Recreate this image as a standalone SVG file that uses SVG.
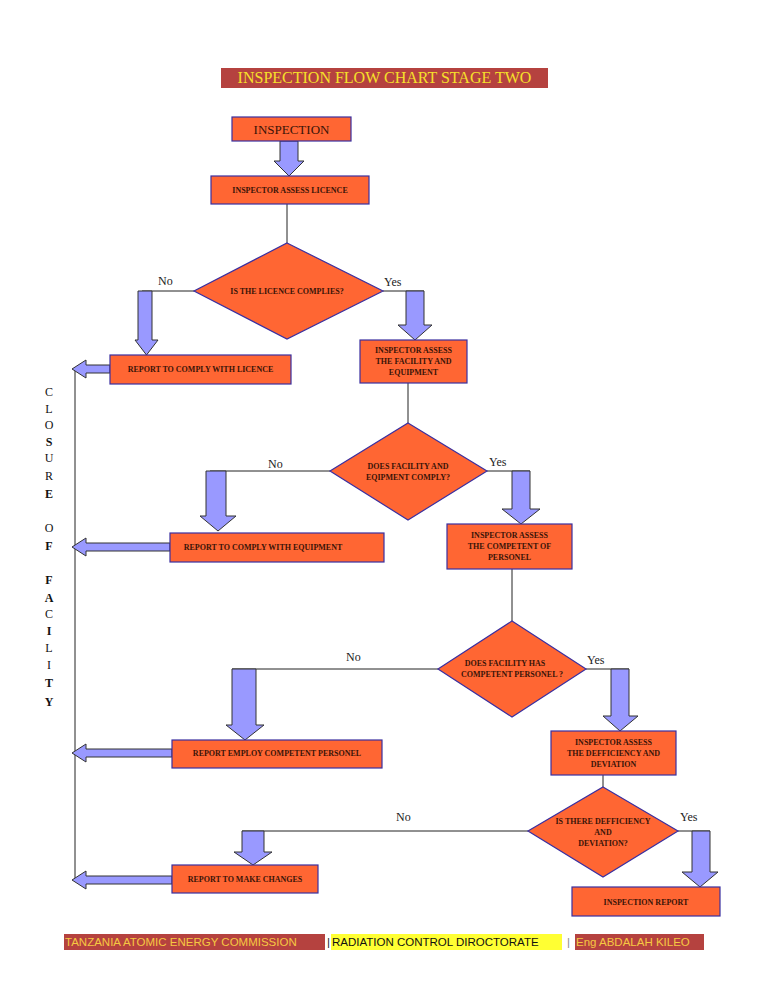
<svg xmlns="http://www.w3.org/2000/svg" width="768" height="994" viewBox="0 0 768 994">
<style>
.n{fill:#ff6633;stroke:#3a2fa0;stroke-width:1.2}
.t{font-family:"Liberation Serif",serif;font-size:8px;font-weight:bold;fill:#3a1408;text-anchor:middle}
.a{fill:#9999ff;stroke:#333;stroke-width:1}
.l{stroke:#222;stroke-width:1;fill:none}
.y{font-family:"Liberation Serif",serif;font-size:12px;fill:#222}
.v{font-family:"Liberation Serif",serif;font-size:12px;fill:#111;text-anchor:middle}
.f{font-family:"Liberation Sans",sans-serif;font-size:11.5px}
</style>
<rect width="768" height="994" fill="#fff"/>
<g id="title"><rect x="221" y="68" width="327" height="20" fill="#b5423f"/><text x="384.5" y="83" font-family="Liberation Serif,serif" font-size="16" fill="#f5e02a" text-anchor="middle">INSPECTION FLOW CHART STAGE TWO</text></g>
<g id="connectors">
<path class="l" d="M287 204V243M194 291H142M383 291H424M408 383V423M330 471H210M487 471H530M512 569V621M438 669H232M586 669H629M603 775V787M528 831H242M678 831H710M75 367V880"/>
<path class="a" d="M280 141H298V161H304L289 176L274 161H280Z"/>
<path class="a" d="M138 291H152V340H158L146.5 355L135 340H138Z"/>
<path class="a" d="M406 291H424V325H432L415 340L398 325H406Z"/>
<path class="a" d="M206 471H226V516H236L218 531L200 516H206Z"/>
<path class="a" d="M512 471H530V509H540L521 524L502 509H512Z"/>
<path class="a" d="M232 669H256V725H264L245 740L226 725H232Z"/>
<path class="a" d="M611 669H629V716H638L620 731L603 716H611Z"/>
<path class="a" d="M242 831H264V852H272L253 865L234 852H242Z"/>
<path class="a" d="M692 831H710V872H718L700 887L682 872H692Z"/>
<path class="a" d="M110 365H86V360L72 369L86 378V373H110Z"/>
<path class="a" d="M170 543H86V538L72 547L86 556V551H170Z"/>
<path class="a" d="M172 749H86V744L72 753L86 762V757H172Z"/>
<path class="a" d="M172 876H86V871L72 880L86 889V884H172Z"/>
<text class="y" x="158" y="285">No</text><text class="y" x="384" y="286">Yes</text>
<text class="y" x="268" y="468">No</text><text class="y" x="489" y="466">Yes</text>
<text class="y" x="346" y="661">No</text><text class="y" x="587" y="664">Yes</text>
<text class="y" x="396" y="821">No</text><text class="y" x="680" y="821">Yes</text>
</g>
<g id="n1"><rect class="n" x="232" y="117" width="119" height="24"/><text x="291.5" y="134" font-family="Liberation Serif,serif" font-size="13" fill="#3a1408" text-anchor="middle">INSPECTION</text></g>
<g id="n2"><rect class="n" x="211" y="176" width="158" height="28"/><text class="t" x="290" y="193">INSPECTOR ASSESS LICENCE</text></g>
<g id="d1"><polygon class="n" points="287,243 383,291 287,339 194,291"/><text class="t" x="287" y="294">IS THE LICENCE COMPLIES?</text></g>
<g id="r1"><rect class="n" x="110" y="355" width="181" height="29"/><text class="t" x="200.5" y="372">REPORT TO COMPLY WITH LICENCE</text></g>
<g id="n3"><rect class="n" x="360" y="340" width="107" height="43"/><text class="t" x="413.5" y="353">INSPECTOR ASSESS</text><text class="t" x="413.5" y="364">THE FACILITY AND</text><text class="t" x="413.5" y="375">EQUIPMENT</text></g>
<g id="d2"><polygon class="n" points="408,423 487,471 408,520 330,471"/><text class="t" x="408" y="469">DOES FACILITY AND</text><text class="t" x="408" y="480">EQIPMENT COMPLY?</text></g>
<g id="r2"><rect class="n" x="170" y="533" width="214" height="29"/><text class="t" x="263" y="550">REPORT TO  COMPLY WITH EQUIPMENT</text></g>
<g id="n4"><rect class="n" x="447" y="524" width="125" height="45"/><text class="t" x="509.5" y="538">INSPECTOR ASSESS</text><text class="t" x="509.5" y="549">THE COMPETENT OF</text><text class="t" x="509.5" y="560">PERSONEL</text></g>
<g id="d3"><polygon class="n" points="512,621 586,669 512,717 438,669"/><text class="t" x="505" y="666">DOES FACILITY HAS</text><text class="t" x="512" y="677">COMPETENT PERSONEL ?</text></g>
<g id="r3"><rect class="n" x="172" y="740" width="210" height="28"/><text class="t" x="277" y="756">REPORT EMPLOY COMPETENT PERSONEL</text></g>
<g id="n5"><rect class="n" x="551" y="731" width="125" height="44"/><text class="t" x="613.5" y="745">INSPECTOR ASSESS</text><text class="t" x="613.5" y="756">THE DEFFICIENCY AND</text><text class="t" x="613.5" y="767">DEVIATION</text></g>
<g id="d4"><polygon class="n" points="603,787 678,831 603,877 528,831"/><text class="t" x="603" y="824">IS THERE DEFFICIENCY</text><text class="t" x="603" y="835">AND</text><text class="t" x="603" y="846">DEVIATION?</text></g>
<g id="r4"><rect class="n" x="172" y="865" width="146" height="28"/><text class="t" x="245" y="882">REPORT TO MAKE CHANGES</text></g>
<g id="n6"><rect class="n" x="572" y="887" width="148" height="29"/><text class="t" x="646" y="905">INSPECTION REPORT</text></g>
<g id="side">
<text class="v" x="49" y="396">C</text><text class="v" x="49" y="413">L</text><text class="v" x="49" y="429">O</text><text class="v" x="49" y="446" font-weight="bold">S</text><text class="v" x="49" y="462">U</text><text class="v" x="49" y="480">R</text><text class="v" x="49" y="498" font-weight="bold">E</text>
<text class="v" x="49" y="532">O</text><text class="v" x="49" y="550" font-weight="bold">F</text>
<text class="v" x="49" y="584" font-weight="bold">F</text><text class="v" x="49" y="602" font-weight="bold">A</text><text class="v" x="49" y="618">C</text><text class="v" x="49" y="635" font-weight="bold">I</text><text class="v" x="49" y="652">L</text><text class="v" x="49" y="669">I</text><text class="v" x="49" y="687" font-weight="bold">T</text><text class="v" x="49" y="706" font-weight="bold">Y</text>
</g>
<g id="footer">
<rect x="64" y="934" width="261" height="16" fill="#b5423f"/><text class="f" x="65" y="946" fill="#f5c842">TANZANIA ATOMIC ENERGY COMMISSION</text>
<text class="f" x="327" y="946" fill="#222">|</text>
<rect x="331" y="934" width="231" height="16" fill="#ffff33"/><text class="f" x="332" y="946" fill="#111">RADIATION CONTROL DIROCTORATE</text>
<text class="f" x="567" y="946" fill="#888">|</text>
<rect x="575" y="934" width="129" height="16" fill="#b5423f"/><text class="f" x="576" y="946" fill="#f5c842">Eng ABDALAH KILEO</text>
</g>
</svg>
